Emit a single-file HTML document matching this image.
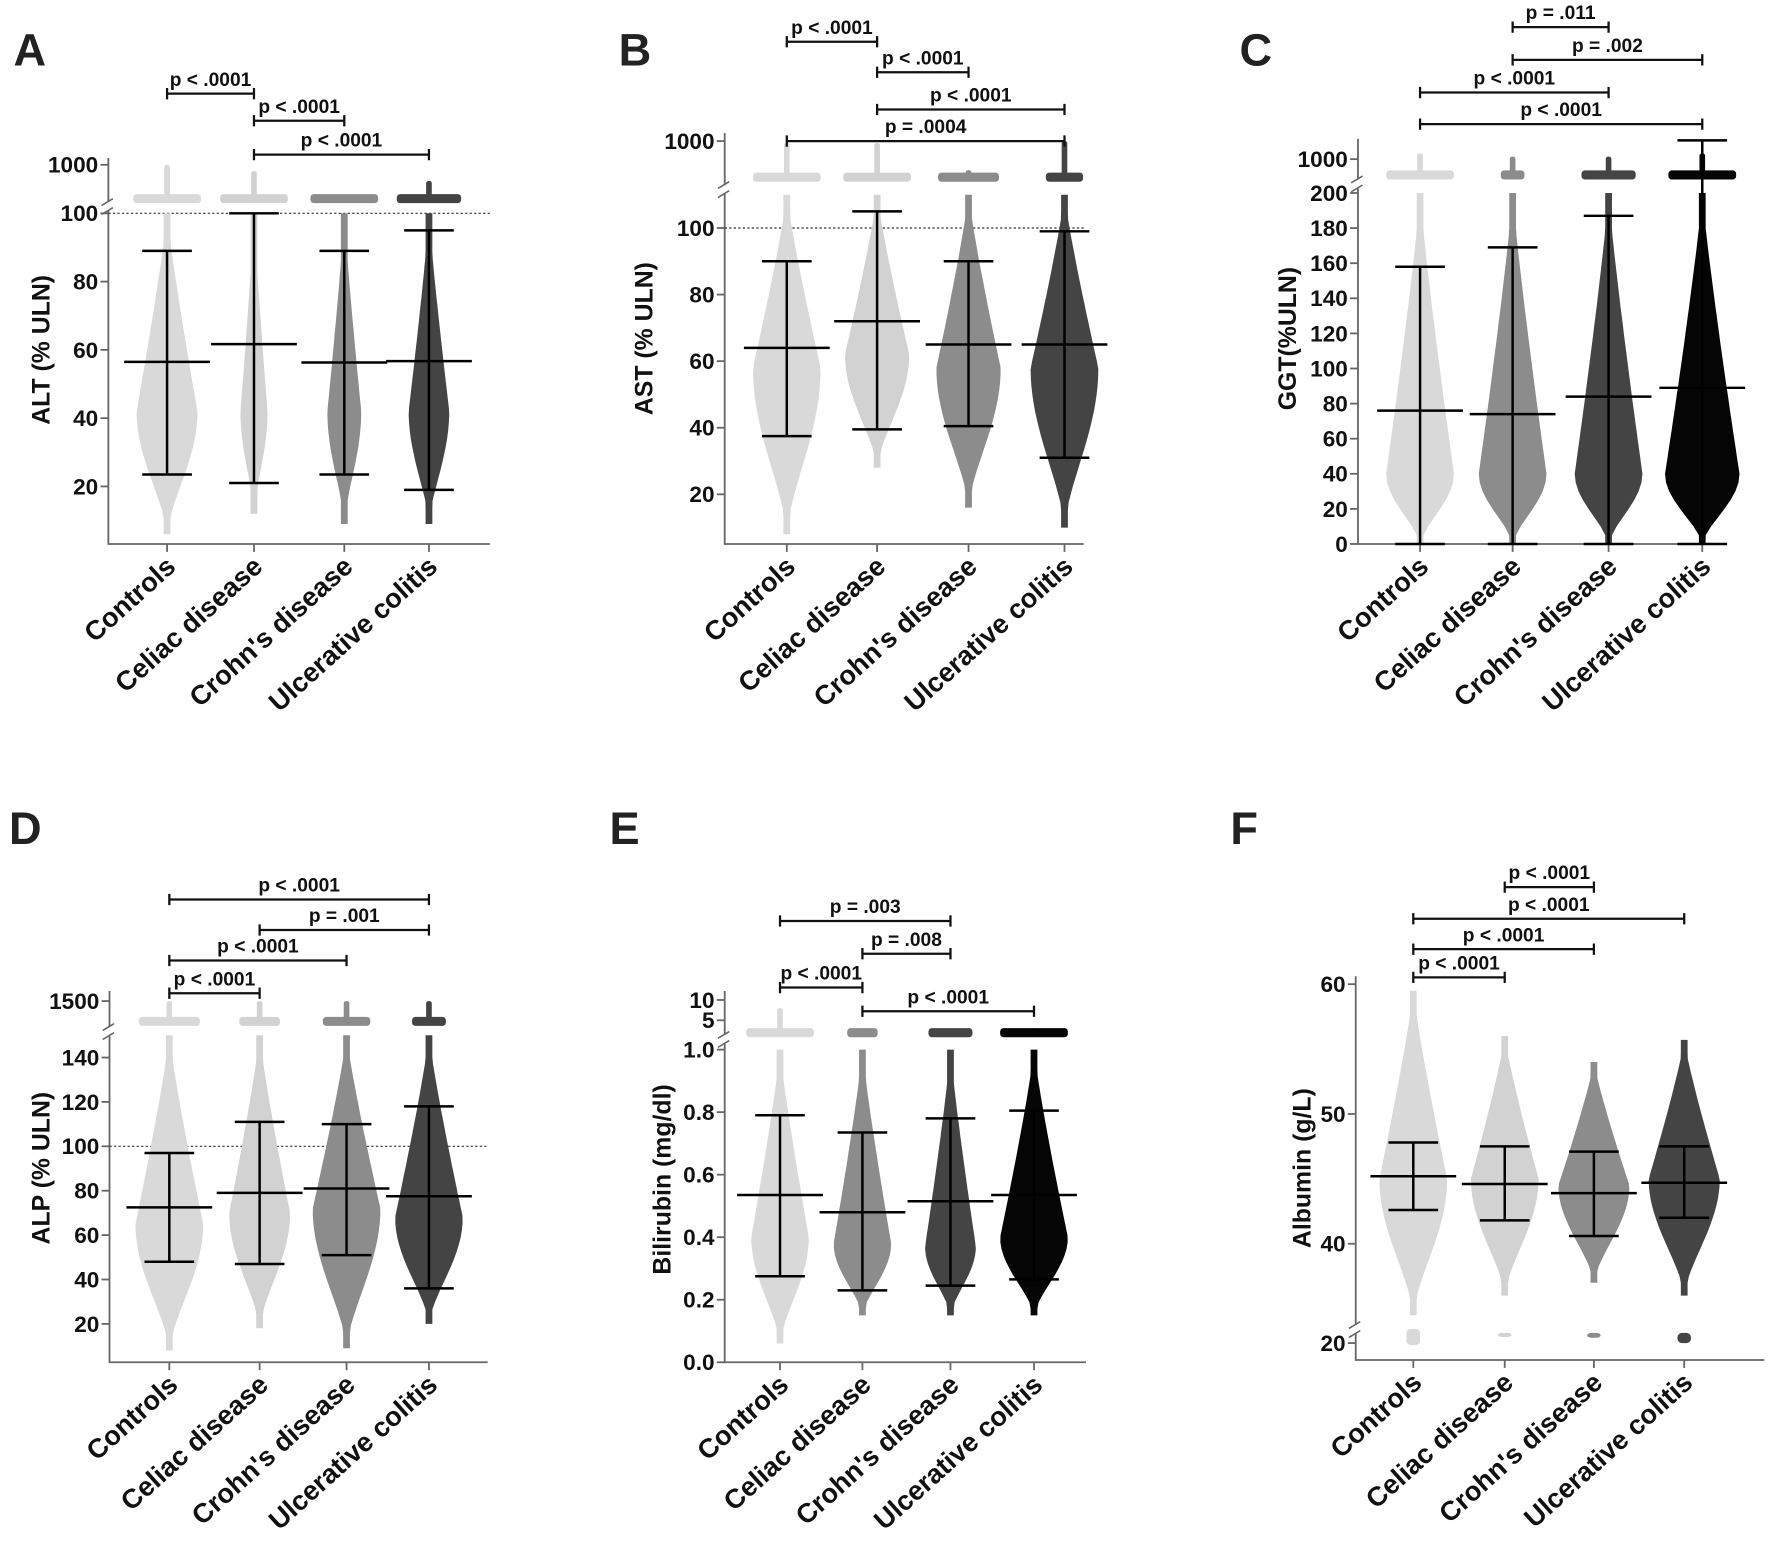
<!DOCTYPE html>
<html><head><meta charset="utf-8"><style>
html,body{margin:0;padding:0;background:#fff;}
svg{display:block;font-family:"Liberation Sans",Arial,sans-serif;font-weight:bold;}
</style></head><body>
<svg id="fig" xmlns="http://www.w3.org/2000/svg" width="1770" height="1553" viewBox="0 0 1568 1376" preserveAspectRatio="none"></svg>
<script>
// ---------- data ----------
const categories = ["Controls","Celiac disease","Crohn's disease","Ulcerative colitis"];
// Panel A: ALT
const A_mean=[56.5,61.7,56.3,56.7], A_lo=[23.5,21,23.5,19], A_hi=[89,100,89,95];
const A_min=[6,12,9,9], A_peak=[42,42,42,42], A_max=[100,100,100,100], A_w=[0.9,0.4,0.5,0.6];
const A_upMax=[1000,700,150,400], A_upW=[1,1,1,0.95];
const A_sig=[[0,1,"p < .0001"],[1,2,"p < .0001"],[1,3,"p < .0001"]];
// Panel B: AST
const B_mean=[64,72,65,65], B_lo=[37.5,39.5,40.5,31], B_hi=[90,105,90,99];
const B_min=[8,28,16,10], B_peak=[58,62,58,58], B_max=[110,110,110,110], B_w=[1,0.95,0.95,1];
const B_upMax=[900,900,200,1000], B_upW=[1,1,0.9,0.55];
const B_sig=[[0,1,"p < .0001"],[1,2,"p < .0001"],[1,3,"p < .0001"],[0,3,"p = .0004"]];
// Panel C: GGT
const C_mean=[76,74,84,89], C_lo=[0,0,0,0], C_hi=[158,169,187,230];
const C_min=[0,0,0,0], C_peak=[40,40,40,40], C_max=[200,200,200,200], C_w=[1,1,1,1.1];
const C_upMax=[1500,1200,1200,1500], C_upW=[1,0.35,0.8,1];
const C_sig=[[1,2,"p = .011"],[1,3,"p = .002"],[0,2,"p < .0001"],[0,3,"p < .0001"]];
// Panel D: ALP
const D_mean=[72.5,79,81,77.5], D_lo=[48,47,51,36], D_hi=[97,111,110,118];
const D_min=[8,18,9,20], D_peak=[65,70,72,68], D_max=[150,150,150,150], D_w=[1,0.9,1,1];
const D_upMax=[1500,1500,1500,1500], D_upW=[0.9,0.6,0.7,0.5];
const D_sig=[[0,3,"p < .0001"],[1,3,"p = .001"],[0,2,"p < .0001"],[0,1,"p < .0001"]];
// Panel E: Bilirubin
const E_mean=[0.535,0.48,0.515,0.535], E_lo=[0.275,0.23,0.245,0.265], E_hi=[0.79,0.735,0.78,0.805];
const E_min=[0.06,0.15,0.15,0.15], E_peak=[0.4,0.38,0.37,0.4], E_max=[1,1,1,1], E_w=[0.85,0.85,0.75,1];
const E_upMax=[8,3,2.5,3], E_upW=[1,0.45,0.65,1];
const E_sig=[[0,2,"p = .003"],[1,2,"p = .008"],[0,1,"p < .0001"],[1,3,"p < .0001"]];
// Panel F: Albumin
const F_mean=[45.2,44.6,43.9,44.7], F_lo=[42.6,41.8,40.6,42], F_hi=[47.8,47.5,47.1,47.5];
const F_min=[34.5,36,37,36], F_peak=[45,45,44.5,45], F_max=[59.5,56,54,55.7], F_w=[1,1,1.05,1.05];
const F_outLo=[19.5,21.5,21.3,20], F_outHi=[23.5,22.5,22.5,22.5];
const F_sig=[[1,2,"p < .0001"],[0,3,"p < .0001"],[0,2,"p < .0001"],[0,1,"p < .0001"]];

// ---------- helpers ----------
const NS="http://www.w3.org/2000/svg";
const svg=document.getElementById("fig");
function mk(tag,attrs,parent){const e=document.createElementNS(NS,tag);for(const k in attrs)e.setAttribute(k,attrs[k]);(parent||svg).appendChild(e);return e;}
function lin(v0,y0,v1,y1){return v=>y0+(v-v0)*(y1-y0)/(v1-v0);}
function logs(v0,y0,v1,y1){return v=>y0+(Math.log10(v)-Math.log10(v0))*(y1-y0)/(Math.log10(v1)-Math.log10(v0));}

const L="#d9d9d9", M="#8c8c8c", Dk="#444444", K="#050505";

const panels=[
 {id:"a",letter:"A",lx:12,ly:58,ax:96,bottom:482,right:434,top:140,brk:183,cx:[148,225,305,380],
  sy:lin(100,189,20,431),uy:logs(1000,146,100,182),blobY:176,ticks:[20,40,60,80,100],fmt:v=>v,uticks:[1000],dotted:100,
  title:"ALT (% ULN)",tx:36,tyc:310,mean:A_mean,lo:A_lo,hi:A_hi,min:A_min,peak:A_peak,max:A_max,w:A_w,upMax:A_upMax,upW:A_upW,sig:A_sig,sigY:[83,107,137],
  col:[L,"#d2d2d2",M,Dk]},
 {id:"b",letter:"B",lx:548,ly:58,ax:642,bottom:482,right:960,top:118,brk:168,cx:[697,777,858,943],
  sy:lin(100,202,20,438),uy:logs(1000,125,100,162),blobY:157,ticks:[20,40,60,80,100],fmt:v=>v,uticks:[1000],dotted:100,
  title:"AST (% ULN)",tx:570,tyc:300,mean:B_mean,lo:B_lo,hi:B_hi,min:B_min,peak:B_peak,max:B_max,w:B_w,upMax:B_upMax,upW:B_upW,sig:B_sig,sigY:[37,64,97,125],
  col:[L,"#d2d2d2",M,Dk]},
 {id:"c",letter:"C",lx:1098,ly:58,ax:1203,bottom:482,right:1522,top:123,brk:163,cx:[1258,1340,1425,1508],
  sy:lin(200,171,0,482),uy:logs(1000,141,200,161),blobY:155,ticks:[0,20,40,60,80,100,120,140,160,180,200],fmt:v=>v,uticks:[1000],dotted:null,
  title:"GGT(%ULN)",tx:1140,tyc:300,mean:C_mean,lo:C_lo,hi:C_hi,min:C_min,peak:C_peak,max:C_max,w:C_w,upMax:C_upMax,upW:C_upW,sig:C_sig,sigY:[24,53,82,110],
  col:[L,M,Dk,K]},
 {id:"d",letter:"D",lx:8,ly:748,ax:97,bottom:1207,right:432,top:878,brk:914,cx:[150,230,307,380],
  sy:lin(140,937,20,1173),uy:logs(1500,887,150,920),blobY:905,ticks:[20,40,60,80,100,120,140],fmt:v=>v,uticks:[1500],dotted:100,
  title:"ALP (% ULN)",tx:36,tyc:1035,mean:D_mean,lo:D_lo,hi:D_hi,min:D_min,peak:D_peak,max:D_max,w:D_w,upMax:D_upMax,upW:D_upW,sig:D_sig,sigY:[797,824,851,880],
  col:[L,"#d2d2d2",M,Dk]},
 {id:"e",letter:"E",lx:540,ly:748,ax:642,bottom:1207,right:962,top:878,brk:921,cx:[691,764,842,916],
  sy:lin(1,930,0,1207),uy:lin(10,886,5,904),blobY:915,ticks:[0,0.2,0.4,0.6,0.8,1.0],fmt:v=>v.toFixed(1),uticks:[10,5],dotted:null,
  title:"Bilirubin (mg/dl)",tx:586,tyc:1045,mean:E_mean,lo:E_lo,hi:E_hi,min:E_min,peak:E_peak,max:E_max,w:E_w,upMax:E_upMax,upW:E_upW,sig:E_sig,sigY:[816,845,875,896],
  col:[L,M,Dk,K]},
 {id:"f",letter:"F",lx:1090,ly:748,ax:1201,bottom:1205,right:1563,top:865,brk:1178,cx:[1252,1333,1412,1492],
  sy:lin(60,872,40,1102),uy:lin(20,1190,25,1172),blobY:null,ticks:[40,50,60],fmt:v=>v,uticks:[20],dotted:null,
  title:"Albumin (g/L)",tx:1153,tyc:1035,mean:F_mean,lo:F_lo,hi:F_hi,min:F_min,peak:F_peak,max:F_max,w:F_w,outLo:F_outLo,outHi:F_outHi,sig:F_sig,sigY:[786,814,841,866],
  col:[L,"#d2d2d2",M,Dk]}
];

function violinPath(p,i){
  const x=p.cx[i], pw=30*p.w[i], mn=p.min[i], pk=p.peak[i], mx=p.max[i];
  const N=40, left=[], right=[];
  for(let k=0;k<=N;k++){
    const v=mn+(mx-mn)*k/N; let s;
    if(v<=pk){const t=(v-mn)/(pk-mn); s=Math.pow(Math.sin(t*Math.PI/2),1.5);}
    else{const t=(mx-v)/(mx-pk); s=Math.pow(t,1.15);}
    const hw=Math.max(3,pw*s), y=p.sy(v);
    right.push((x+hw).toFixed(1)+","+y.toFixed(1)); left.unshift((x-hw).toFixed(1)+","+y.toFixed(1));
  }
  return "M"+right.join(" L")+" L"+left.join(" L")+"Z";
}

panels.forEach(p=>{
  const g=mk("g",{});
  
  
  const lt=mk("text",{x:p.lx,y:p.ly,"font-size":40,fill:"#222"},g); lt.textContent=p.letter;
  
  
  const ya=mk("path",{d:`M${p.ax},${p.top} L${p.ax},${p.brk-4} M${p.ax},${p.brk+4} L${p.ax},${p.bottom} L${p.right},${p.bottom}`,stroke:"#666",fill:"none","stroke-width":1.6},g);
  
  
  mk("path",{d:`M${p.ax-6},${p.brk-1} L${p.ax+4},${p.brk-7} M${p.ax-6},${p.brk+7} L${p.ax+4},${p.brk+1}`,stroke:"#666","stroke-width":1.4},g);
  p.ticks.forEach(t=>{const y=p.sy(t);mk("line",{x1:p.ax-7,x2:p.ax,y1:y,y2:y,stroke:"#666","stroke-width":1.6},g);
    const tx=mk("text",{x:p.ax-9,y:y+7,"font-size":20,"text-anchor":"end",fill:"#111"},g);tx.textContent=p.fmt(t);
    
    });
  p.uticks.forEach(t=>{const y=p.uy(t);mk("line",{x1:p.ax-7,x2:p.ax,y1:y,y2:y,stroke:"#666","stroke-width":1.6},g);
    const tx=mk("text",{x:p.ax-9,y:y+7,"font-size":20,"text-anchor":"end",fill:"#111"},g);tx.textContent=t;
    
    });
  if(p.dotted!==null){const y=p.sy(p.dotted);const dl=mk("line",{x1:p.ax,x2:p.right,y1:y,y2:y,stroke:"#333","stroke-width":1.1,"stroke-dasharray":"2,2"},g);
    
    }
  const yt=mk("text",{x:0,y:0,"font-size":22,"text-anchor":"middle",transform:`translate(${p.tx+8},${p.tyc}) rotate(-90)`,fill:"#111"},g);yt.textContent=p.title;
  
  
  categories.forEach((c,i)=>{
    const x=p.cx[i];
    mk("line",{x1:x,x2:x,y1:p.bottom,y2:p.bottom+7,stroke:"#666","stroke-width":1.6},g);
    const xl=mk("text",{x:0,y:0,"font-size":24,"text-anchor":"end",transform:`translate(${x+9},${p.bottom+22}) rotate(-42)`,fill:"#111"},g);xl.textContent=c;
    
    
    const v=mk("path",{d:violinPath(p,i),fill:p.col[i]},g);
    
    
    if(p.blobY!==null){
      const hw=30*p.upW[i];
      const b=mk("rect",{x:x-hw,y:p.blobY-4,width:2*hw,height:8,rx:3,fill:p.col[i]},g);
      
      
      const top=p.uy(p.upMax[i]);
      mk("rect",{x:x-2.5,y:top,width:5,height:p.blobY-top,rx:2,fill:p.col[i]},g);
    } else {
      const y1=p.uy(p.outHi[i]), y2=p.uy(p.outLo[i]);
      const o=mk("rect",{x:x-6,y:y1,width:12,height:y2-y1,rx:4,fill:p.col[i]},g);
      
      
    }
    const yl=p.sy(p.lo[i]), yh=p.sy(p.hi[i]), ym=p.sy(p.mean[i]);
    const eb=mk("path",{d:`M${x},${Math.min(yl,p.bottom)} L${x},${yh} M${x-22},${yh} L${x+22},${yh} M${x-22},${yl} L${x+22},${yl} M${x-38},${ym} L${x+38},${ym}`,stroke:"#000","stroke-width":2.2,fill:"none"},g);
    
    
  });
  p.sig.forEach((s,k)=>{
    const x1=p.cx[s[0]], x2=p.cx[s[1]], y=p.sigY[k];
    const br=mk("path",{d:`M${x1},${y} L${x2},${y} M${x1},${y-5} L${x1},${y+5} M${x2},${y-5} L${x2},${y+5}`,stroke:"#111","stroke-width":2},g);
    
    
    const t=mk("text",{x:(x1+x2)/2,y:y-7,"font-size":17,"text-anchor":"middle",fill:"#111"},g);t.textContent=s[2];
    
    
  });
});
</script>
</body></html>
